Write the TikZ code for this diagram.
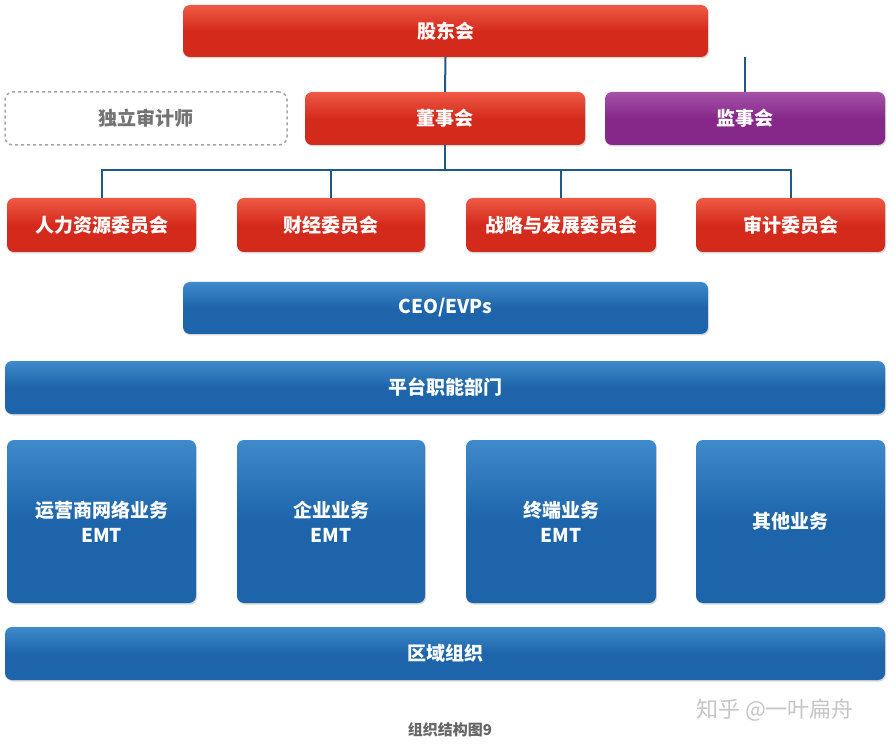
\documentclass[tikz,border=0pt]{standalone}
\usepackage{fontspec}
\newfontfamily\cjk{Noto Sans CJK SC}
\usetikzlibrary{shadows}
\definecolor{rd}{HTML}{D42A1C}
\definecolor{rdl}{HTML}{EE5A45}
\definecolor{bl}{HTML}{1D64AA}
\definecolor{bll}{HTML}{3F8ACB}
\definecolor{pu}{HTML}{86288A}
\definecolor{pul}{HTML}{A552A8}
\definecolor{ln}{HTML}{1F5A82}
\tikzset{
 x=1pt,y=-1pt,
 bx/.style={rounded corners=7pt,inner sep=0pt,font=\cjk\bfseries\fontsize{19}{25}\selectfont,text=white,align=center,drop shadow={opacity=0.3,shadow xshift=1pt,shadow yshift=-1.5pt}},
 redbox/.style={bx,top color=rdl,bottom color=rd,middle color=rd},
 bluebox/.style={bx,top color=bll,bottom color=bl,middle color=bl},
 purplebox/.style={bx,top color=pul,bottom color=pu,middle color=pu},
 cn/.style={draw=ln,line width=2pt},
}
\newcommand{\bxat}[6]{\node[#1,minimum width=#4-#2,minimum height=#5-#3] (#6) at ({(#2+#4)/2},{(#3+#5)/2})}
\begin{document}
\begin{tikzpicture}
\useasboundingbox[fill=white] (0,0) rectangle (895,746);
\bxat{redbox}{183}{5}{708}{57}{gd} {股东会};
\bxat{redbox}{305}{92}{585}{145}{ds} {董事会};
\bxat{purplebox}{605}{92}{885}{145}{js} {监事会};
\node[draw=gray!70,dashed,line width=1.5pt,rounded corners=8pt,minimum width=282,minimum height=53,font=\cjk\bfseries\fontsize{19}{25}\selectfont,text=gray!90!black] (sj) at (146,118.5) {独立审计师};
\bxat{redbox}{7}{198}{196}{252}{c1} {人力资源委员会};
\bxat{redbox}{237}{198}{425}{252}{c2} {财经委员会};
\bxat{redbox}{466}{198}{656}{252}{c3} {战略与发展委员会};
\bxat{redbox}{696}{198}{885}{252}{c4} {审计委员会};
\bxat{bluebox}{183}{282}{708}{334}{ceo} {CEO/EVPs};
\bxat{bluebox}{5}{361}{885}{414}{pt} {平台职能部门};
\bxat{bluebox}{7}{440}{196}{603}{b1} {运营商网络业务\\EMT};
\bxat{bluebox}{237}{440}{425}{603}{b2} {企业业务\\EMT};
\bxat{bluebox}{466}{440}{656}{603}{b3} {终端业务\\EMT};
\bxat{bluebox}{696}{440}{885}{603}{b4} {其他业务};
\bxat{bluebox}{5}{627}{885}{680}{qy} {区域组织};
\draw[cn] (gd.south) -- (ds.north);
\draw[cn] (gd.south -| js.north) -- (js.north);
\coordinate (bus) at (445,170);
\draw[cn] (ds.south) -- (bus);
\draw[cn] (c1.north) |- (bus) -| (c4.north);
\draw[cn] (c2.north) -- (c2.north |- bus);
\draw[cn] (c3.north) -- (c3.north |- bus);
\node[font=\cjk\bfseries\fontsize{15}{18}\selectfont,text=gray!80!black] (cap) at (450,730) {组织结构图9};
\node[font=\cjk\fontsize{22}{26}\selectfont,text=gray!45] (wm) at (775,710) {知乎 @一叶扁舟};
\end{tikzpicture}
\end{document}
